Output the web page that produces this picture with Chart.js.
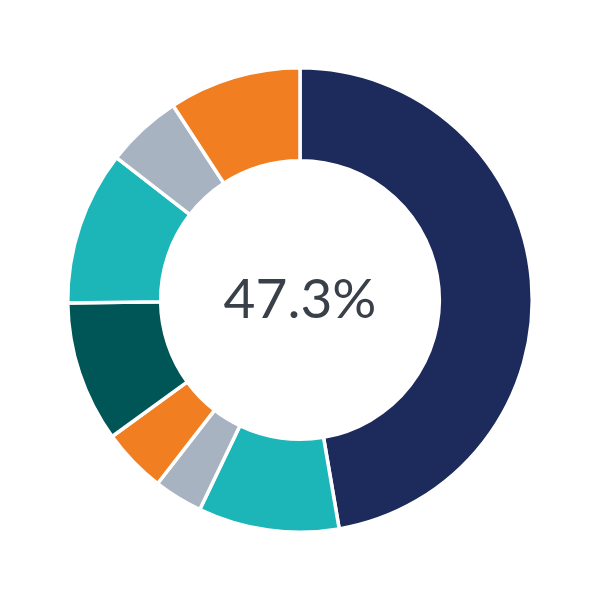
<!DOCTYPE html>
<html lang="en">
<head>
    <meta charset="UTF-8">
    <meta name="viewport" content="width=device-width, initial-scale=1.0">
    <script src="https://cdn.jsdelivr.net/npm/chart.js@4.4.0/dist/chart.umd.min.js"></script>
    <title>Document</title>
    <style>
        html, body { margin: 0; padding: 0; background: #fff; }
        #wrap { width: 600px; height: 600px; }
    </style>
</head>
<body>
    <div id="wrap"><canvas id="myChart" width="600" height="600"></canvas></div>
    <script>

        var labels = ['A', 'B', 'C', 'D', 'E', 'F', 'G', 'H'];
        var values = [47.3, 9.8, 3.4, 4.5, 9.8, 10.7, 5.3, 9.2];
        var colors = ['#1c2b5b', '#1cb5b8', '#a8b3c1', '#f17f22', '#005657', '#1cb5b8', '#a8b3c1', '#f17f22'];
        var centerText = '47.3%';

        var centerLabel = {
            id: 'centerLabel',
            afterDraw: function(chart) {
                var ctx = chart.ctx;
                var meta = chart.getDatasetMeta(0).data[0];
                ctx.save();
                ctx.font = '400 55px Lato';
                ctx.fillStyle = '#3a4049';
                ctx.textAlign = 'center';
                ctx.textBaseline = 'middle';
                ctx.fillText(centerText, meta.x, meta.y);
                ctx.restore();
            }
        };

        var ctx = document.getElementById('myChart').getContext('2d');
        var myChart = new Chart(ctx, {
            type: 'doughnut',
            data: {
                labels: labels,
                datasets: [{
                    data: values,
                    backgroundColor: colors,
                    borderColor: '#ffffff',
                    borderWidth: 3.5
                }]
            },
            options: {
                responsive: false,
                cutout: '60%',
                animation: false,
                layout: { padding: 66 },
                plugins: {
                    legend: { display: false },
                    tooltip: { enabled: false }
                }
            },
            plugins: [centerLabel]
        });
    </script>
</body>
</html>
